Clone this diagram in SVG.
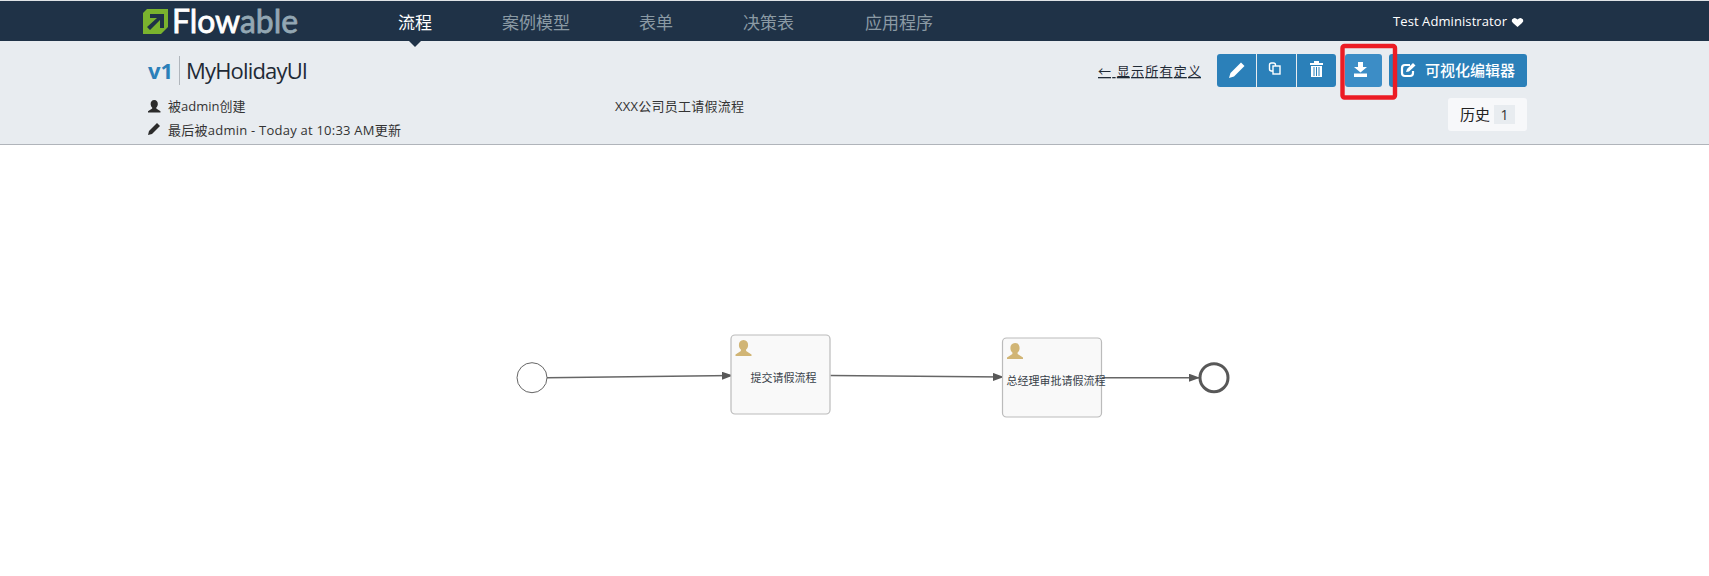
<svg xmlns="http://www.w3.org/2000/svg" width="1709" height="576" viewBox="0 0 1709 576">
<defs>
<style>
text{font-family:"Open Sans","Noto Sans CJK SC",sans-serif}
.nav{font-size:17px;fill:#8b9aa4}
.meta{font-size:13px;fill:#333}
.btn{fill:#2b80b9}
.ic{fill:#fff}
.flow{fill:none;stroke:#666;stroke-width:1.6}
.task{fill:#f9f9f9;stroke:#bbb;stroke-width:1.2}
.lbl{font-size:11px;fill:#373e48}
.usr{fill:#d1b575}
</style>
<marker id="arr" markerUnits="userSpaceOnUse" markerWidth="12" markerHeight="9" refX="11" refY="4" orient="auto"><path d="M0 0L11 4L0 8z" fill="#585858"/></marker>
<path id="person" d="M8 0C5 0 3.4 2.2 3.4 5C3.4 7 4.2 8.600 5.400 9.600L5.400 11L0 14.500L0 16L16 16L16 14.500L10.600 11L10.600 9.600C11.800 8.600 12.600 7 12.600 5C12.600 2.200 11 0 8 0z"/>
</defs>
<rect width="1709" height="576" fill="#fff"/>
<g id="navbar">
<rect y="1" width="1709" height="40" fill="#1f3247"/>
<rect width="1709" height="1" fill="#dfe3e6"/>
<g id="logo">
<path d="M147 9H168V27L161 34H143V13z" fill="#7ab32e"/>
<path d="M150 14H164V28H160V20L150 30L147 27L157 18H150z" fill="#1f3247"/>
<text x="172" y="33" font-size="33" font-weight="400" textLength="126" lengthAdjust="spacingAndGlyphs" stroke-width=".8" style="font-family:'Lato',sans-serif"><tspan fill="#fff" stroke="#fff">Flow</tspan><tspan fill="#93a7b3" stroke="#93a7b3">able</tspan></text>
</g>
<text class="nav" x="398" y="29" style="fill:#fff">流程</text>
<text class="nav" x="502" y="29">案例模型</text>
<text class="nav" x="639" y="29">表单</text>
<text class="nav" x="743" y="29">决策表</text>
<text class="nav" x="865" y="29">应用程序</text>
<text x="1393" y="26" font-size="13" font-weight="500" fill="#fff" textLength="114">Test Administrator</text>
<path d="M1512 19.500Q1514.500 16.500 1517.500 19.500Q1520.500 16.500 1523 19.500Q1524 21 1522 23L1517.500 27L1513 23Q1511 21 1512 19.500z" fill="#fff"/>
</g>
<g id="header">
<rect y="41" width="1709" height="103" fill="#e8ecf0"/>
<rect y="144" width="1709" height="1" fill="#b0b4ba"/>
<path d="M409 41H421L415 47z" fill="#1f3247"/>
<text x="148" y="79" font-size="22" font-weight="700" fill="#2b80b9">v1</text>
<rect x="179" y="56" width="1" height="29" fill="#b0b6bc"/>
<text x="186" y="79" font-size="22" fill="#1f2a36" textLength="122">MyHolidayUI</text>
<use href="#person" transform="translate(148 100) scale(.78)" fill="#2b2b2b"/>
<text class="meta" x="168" y="111">被admin创建</text>
<path d="M148 135L149 131L157 123L160 126L152 134z" fill="#2b2b2b"/>
<text class="meta" x="168" y="135" textLength="233">最后被admin - Today at 10:33 AM更新</text>
<text class="meta" x="615" y="111" textLength="129">XXX公司员工请假流程</text>
<text x="1098" y="76" font-size="13" fill="#1f2a36" text-decoration="underline" textLength="103">← 显示所有定义</text>
</g>
<g id="toolbar">
<rect class="btn" x="1217" y="54" width="119" height="33" rx="3"/>
<rect x="1256" y="54" width="1" height="33" fill="#e8ecf0"/>
<rect x="1296" y="54" width="1" height="33" fill="#e8ecf0"/>
<path class="ic" d="M1229 78L1230.500 73L1241 62.500L1244.500 66L1234 76.500z"/>
<g fill="none" stroke="#fff" stroke-width="1.400"><rect x="1269.500" y="63" width="6" height="8" rx="2"/><rect x="1273" y="66" width="7" height="8" fill="#2b80b9"/></g>
<path class="ic" d="M1310 63H1323V65H1310zM1314 61H1319V63H1314zM1311 66H1322V77H1311z"/>
<path d="M1314 67V76M1316.500 67V76M1319 67V76" stroke="#2b80b9" stroke-width="1"/>
<rect x="1345" y="54" width="37" height="33" rx="3" fill="#3c8dc6"/>
<path class="ic" d="M1358 62H1363V67H1367L1360.500 72.500L1354 67H1358zM1354 73.500H1367V77H1354z"/>
<rect class="btn" x="1389" y="54" width="138" height="33" rx="3"/>
<path d="M1410 65H1405Q1402 65 1402 68V73Q1402 76 1405 76H1410Q1413 76 1413 73V71" fill="none" stroke="#fff" stroke-width="2.200"/>
<path class="ic" d="M1406 72L1407 69L1413 63L1415.500 65.500L1409 71.500z"/>
<text x="1425" y="76" font-size="15" font-weight="500" fill="#fff">可视化编辑器</text>
<rect x="1342.500" y="46" width="52.500" height="51.500" rx="2" fill="none" stroke="#ec1c24" stroke-width="4.400"/>
<rect x="1448" y="98" width="79" height="33" rx="3" fill="#f7f8fa"/>
<text x="1460" y="120" font-size="15" fill="#222">历史</text>
<rect x="1494" y="105" width="21" height="19" fill="#e8ecf0"/>
<text x="1504.500" y="120" font-size="14" fill="#333" text-anchor="middle">1</text>
</g>
<g id="connectors">
<path class="flow" d="M547 377.700L733 375.500" marker-end="url(#arr)"/>
<path class="flow" d="M830.500 375.500L1004 377" marker-end="url(#arr)"/>
<path class="flow" d="M1101.500 377.700L1200 377.700" marker-end="url(#arr)"/>
</g>
<g id="start"><circle cx="532" cy="377.700" r="15" fill="#fff" stroke="#666" stroke-width="1"/></g>
<g id="task1">
<rect class="task" x="731" y="335" width="99" height="79" rx="4"/>
<use href="#person" class="usr" transform="translate(735.500 340)"/>
<text class="lbl" x="750.500" y="382">提交请假流程</text>
</g>
<g id="task2">
<rect class="task" x="1002.500" y="338" width="99" height="79" rx="4"/>
<use href="#person" class="usr" transform="translate(1007 343)"/>
<text class="lbl" x="1006.500" y="385">总经理审批请假流程</text>
</g>
<g id="end"><circle cx="1214" cy="377.700" r="14" fill="#fff" stroke="#585858" stroke-width="3"/></g>
</svg>
